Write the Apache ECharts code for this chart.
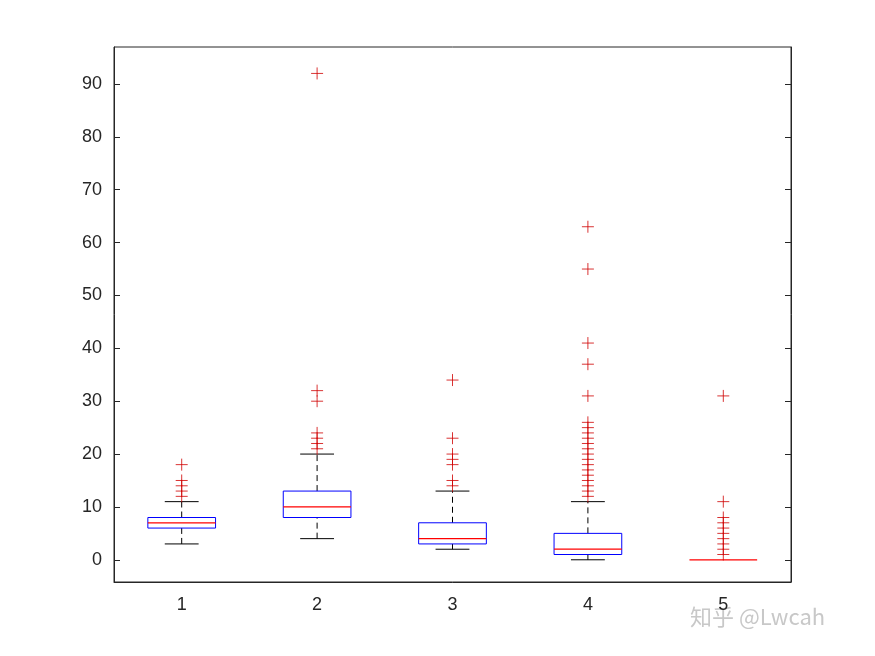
<!DOCTYPE html>
<html><head><meta charset="utf-8">
<script src="https://cdn.jsdelivr.net/npm/echarts@6/dist/echarts.min.js"></script>
<style>html,body{margin:0;padding:0;background:#fff}#c{width:875px;height:656px}</style>
</head><body><div id="c"></div>
<script>
// 箱线图数据: [min, Q1, median, Q3, max]
var categories = ['1', '2', '3', '4', '5'];
var boxStats = [
    [3, 6, 7, 8, 11],
    [4, 8, 10, 13, 20],
    [2, 3, 4, 7, 13],
    [0, 1, 2, 5, 11],
    [0, 0, 0, 0, 0]
];
var outliers = [
    [12, 13, 14, 15, 18],
    [21, 22, 23, 24, 30, 32, 92],
    [14, 15, 18, 19, 20, 23, 34],
    [12, 13, 14, 15, 16, 17, 18, 19, 20, 21, 22, 23, 24, 25, 26, 31, 37, 41, 55, 63],
    [1, 2, 3, 4, 5, 6, 7, 8, 11, 31]
];
var yTicks = [0, 10, 20, 30, 40, 50, 60, 70, 80, 90];

var boxData = boxStats.map(function (s, i) { return [i].concat(s) });
var outData = [];
outliers.forEach(function (arr, i) {
    arr.forEach(function (v) { outData.push([i, v]) })
})

function renderBox(params, api) {
    var x = api.value(0);
    var p = [1, 2, 3, 4, 5].map(function (k) { return api.coord([x, api.value(k)])[1] });
    var cx = api.coord([x, 0])[0];
    var w = api.size([1, 0])[0] * 0.5;
    var cw = w / 2;
    var thin = {stroke: '#000', lineWidth: 1};
    var dash = {stroke: '#000', lineWidth: 1, lineDash: [6, 4]};
    var kids = [];
    if (p[1] - p[3] > 0.5) {
        kids.push(
            {type: 'line', shape: {x1: cx, y1: p[0], x2: cx, y2: p[1]}, style: dash},
            {type: 'line', shape: {x1: cx, y1: p[3], x2: cx, y2: p[4]}, style: dash},
            {type: 'line', shape: {x1: cx - cw / 2, y1: p[0], x2: cx + cw / 2, y2: p[0]}, style: thin},
            {type: 'line', shape: {x1: cx - cw / 2, y1: p[4], x2: cx + cw / 2, y2: p[4]}, style: thin},
            {type: 'rect', shape: {x: cx - w / 2, y: p[3], width: w, height: p[1] - p[3]}, style: {fill: 'none', stroke: '#0000ff', lineWidth: 1}}
        );
    }
    kids.push({type: 'line', z2: 10, shape: {x1: cx - w / 2, y1: p[2], x2: cx + w / 2, y2: p[2]}, style: {stroke: '#ff0000', lineWidth: 1.2}});
    return {type: 'group', children: kids};
}

var axisFont = {color: '#262626', fontSize: 18, fontFamily: 'Liberation Sans'};
var chart = echarts.init(document.getElementById('c'));
chart.setOption({
    animation: false,
    backgroundColor: '#fff',
    grid: {left: 114, right: 84, top: 47, bottom: 74, show: true, borderColor: '#262626', borderWidth: 1},
    xAxis: {
        type: 'category', data: categories, boundaryGap: true,
        axisLine: {onZero: false, lineStyle: {color: '#262626'}},
        axisTick: {inside: true, alignWithLabel: true, length: 6, lineStyle: {color: '#262626'}},
        axisLabel: Object.assign({margin: 14}, axisFont),
        splitLine: {show: false}
    },
    yAxis: [{
        type: 'value', min: -4.2, max: 97,
        axisLine: {show: true, lineStyle: {color: '#262626'}},
        axisTick: {show: true, inside: true, length: 6, customValues: yTicks, lineStyle: {color: '#262626'}},
        axisLabel: Object.assign({margin: 12, customValues: yTicks}, axisFont),
        splitLine: {show: false}
    }, {
        type: 'value', min: -4.2, max: 97, position: 'right',
        axisLine: {show: true, lineStyle: {color: '#262626'}},
        axisTick: {show: true, inside: true, length: 6, customValues: yTicks, lineStyle: {color: '#262626'}},
        axisLabel: {show: false},
        splitLine: {show: false}
    }],
    series: [{
        type: 'custom', renderItem: renderBox, data: boxData,
        encode: {x: 0, y: [1, 2, 3, 4, 5]}
    }, {
        type: 'scatter', data: outData,
        symbol: 'path://M0,5L10,5M5,0L5,10', symbolSize: 12,
        itemStyle: {color: 'none', borderColor: '#d00000', borderWidth: 1}
    }],
    graphic: [{
        type: 'text', left: 690, top: 606,
        style: {text: '知乎 @Lwcah', fill: '#c8c8c8', font: '22px "Noto Sans CJK SC"'}
    }]
})
</script></body></html>
